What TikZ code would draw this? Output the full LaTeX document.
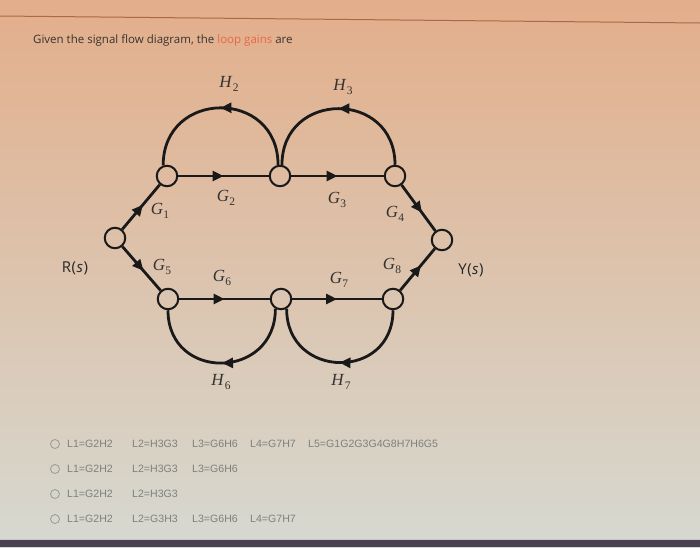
\documentclass[tikz,border=0pt]{standalone}
\usepackage{fontspec}
\setmainfont{Open Sans}
\newfontfamily\optfont{Liberation Sans}
\newfontfamily\serif{Liberation Serif}
\usetikzlibrary{arrows.meta,decorations.markings}
\definecolor{bgtop}{HTML}{E3AE8A}
\definecolor{bgmid}{HTML}{E2C6AE}
\definecolor{bgbot}{HTML}{D6D9D1}
\definecolor{topline}{HTML}{A86A48}
\definecolor{loopc}{HTML}{E8674A}
\definecolor{titlec}{HTML}{383432}
\definecolor{optc}{HTML}{7E807E}
\definecolor{barc}{HTML}{4A4250}
\newcommand{\gl}[2]{\textit{#1}\kern0.3pt\raisebox{-3.5pt}{\fontsize{11.5}{11.5}\selectfont #2}}
\begin{document}
\begin{tikzpicture}[x=1pt,y=1pt,
  sig/.style={circle, draw=black!90, line width=2pt, minimum size=20.5pt, inner sep=0pt},
  edge/.style={draw=black!90, line width=2.8pt},
  midarrow/.style={postaction={decorate},
     decoration={markings, mark=at position #1 with {\arrow{Triangle[length=11pt,width=10pt]}}}},
  midarrow/.default=0.5,
  lab/.style={font=\serif\fontsize{17}{17}\selectfont, text=black!80, inner sep=0pt},
  io/.style={font=\fontsize{15}{15}\selectfont, text=black!85, inner sep=0pt},
  opt/.style={font=\optfont\fontsize{10.6}{11}\selectfont, text=optc, anchor=west, inner sep=0pt},
  radio/.style={circle, draw=optc!80, line width=0.8pt, minimum size=9pt, inner sep=0pt}
]
\useasboundingbox (0,0) rectangle (700,-547);
\shade[top color=bgtop, middle color=bgmid, bottom color=bgbot] (0,0) rectangle (700,-547);
\draw[topline, line width=1pt] (0,-16) -- (700,-23);
\fill[barc] (0,-539) rectangle (700,-547);
\draw[white!70!barc, line width=0.6pt] (0,-539) -- (700,-539);

% title
\node[anchor=base west, inner sep=0pt, text=titlec, font=\fontsize{11.5}{12}\selectfont]
  (title) at (33,-43) {Given the signal flow diagram, the \textcolor{loopc}{loop gains} are};

% nodes
\node[sig] (R)  at (115,-238) {};
\node[sig] (TL) at (167,-176) {};
\node[sig] (TM) at (280,-176) {};
\node[sig] (TR) at (395,-176) {};
\node[sig] (BL) at (168,-299) {};
\node[sig] (BM) at (281,-299) {};
\node[sig] (BR) at (393,-299) {};
\node[sig] (Y)  at (442,-240) {};

% branches
\draw[edge, midarrow=0.55] (R) -- (TL);
\draw[edge, midarrow=0.55] (R) -- (BL);
\draw[edge, midarrow] (TL) -- (TM);
\draw[edge, midarrow] (TM) -- (TR);
\draw[edge, midarrow=0.6] (TR) -- (Y);
\draw[edge, midarrow] (BL) -- (BM);
\draw[edge, midarrow] (BM) -- (BR);
\draw[edge, midarrow=0.6] (BR) -- (Y);
\draw[edge, midarrow] (TM.100) to[out=90,in=90,looseness=1.7] (TL.110);
\draw[edge, midarrow] (TR.90) to[out=90,in=90,looseness=1.7] (TM.80);
\draw[edge, midarrow] (BM.240) to[out=-90,in=-90,looseness=1.7] (BL.270);
\draw[edge, midarrow] (BR.270) to[out=-90,in=-90,looseness=1.7] (BM.300);

% labels
\node[lab] (lH2) at (229,-84) {\gl{H}{2}};
\node[lab] (lH3) at (343,-87) {\gl{H}{3}};
\node[lab] (lG1) at (160,-211) {\gl{G}{1}};
\node[lab] (lG2) at (226,-198) {\gl{G}{2}};
\node[lab] (lG3) at (337,-200) {\gl{G}{3}};
\node[lab] (lG4) at (395,-214) {\gl{G}{4}};
\node[lab] (lG5) at (162,-267) {\gl{G}{5}};
\node[lab] (lG6) at (222,-278) {\gl{G}{6}};
\node[lab] (lG7) at (339,-280) {\gl{G}{7}};
\node[lab] (lG8) at (392,-266) {\gl{G}{8}};
\node[lab] (lH6) at (221,-382) {\gl{H}{6}};
\node[lab] (lH7) at (341,-382) {\gl{H}{7}};
\node[io] (Rs) at (75,-268) {R\kern0.5pt(\kern0.5pt\textit{s}\kern0.5pt)};
\node[io] (Ys) at (471,-270) {Y\kern0.5pt(\kern0.5pt\textit{s}\kern0.5pt)};

% options
\node[radio] (c1) at (55,-444) {};
\node[opt] (a1) at (67,-444) {L1=G2H2};
\node[opt] (a2) at (132,-444) {L2=H3G3};
\node[opt] (a3) at (192,-444) {L3=G6H6};
\node[opt] (a4) at (250,-444) {L4=G7H7};
\node[opt] (a5) at (308,-444) {L5=G1G2G3G4G8H7H6G5};

\node[radio] (c2) at (55,-469) {};
\node[opt] (b1) at (67,-469) {L1=G2H2};
\node[opt] (b2) at (132,-469) {L2=H3G3};
\node[opt] (b3) at (192,-469) {L3=G6H6};

\node[radio] (c3) at (55,-494) {};
\node[opt] (d1) at (67,-494) {L1=G2H2};
\node[opt] (d2) at (132,-494) {L2=H3G3};

\node[radio] (c4) at (55,-519) {};
\node[opt] (e1) at (67,-519) {L1=G2H2};
\node[opt] (e2) at (132,-519) {L2=G3H3};
\node[opt] (e3) at (192,-519) {L3=G6H6};
\node[opt] (e4) at (250,-519) {L4=G7H7};
\end{tikzpicture}
\end{document}
